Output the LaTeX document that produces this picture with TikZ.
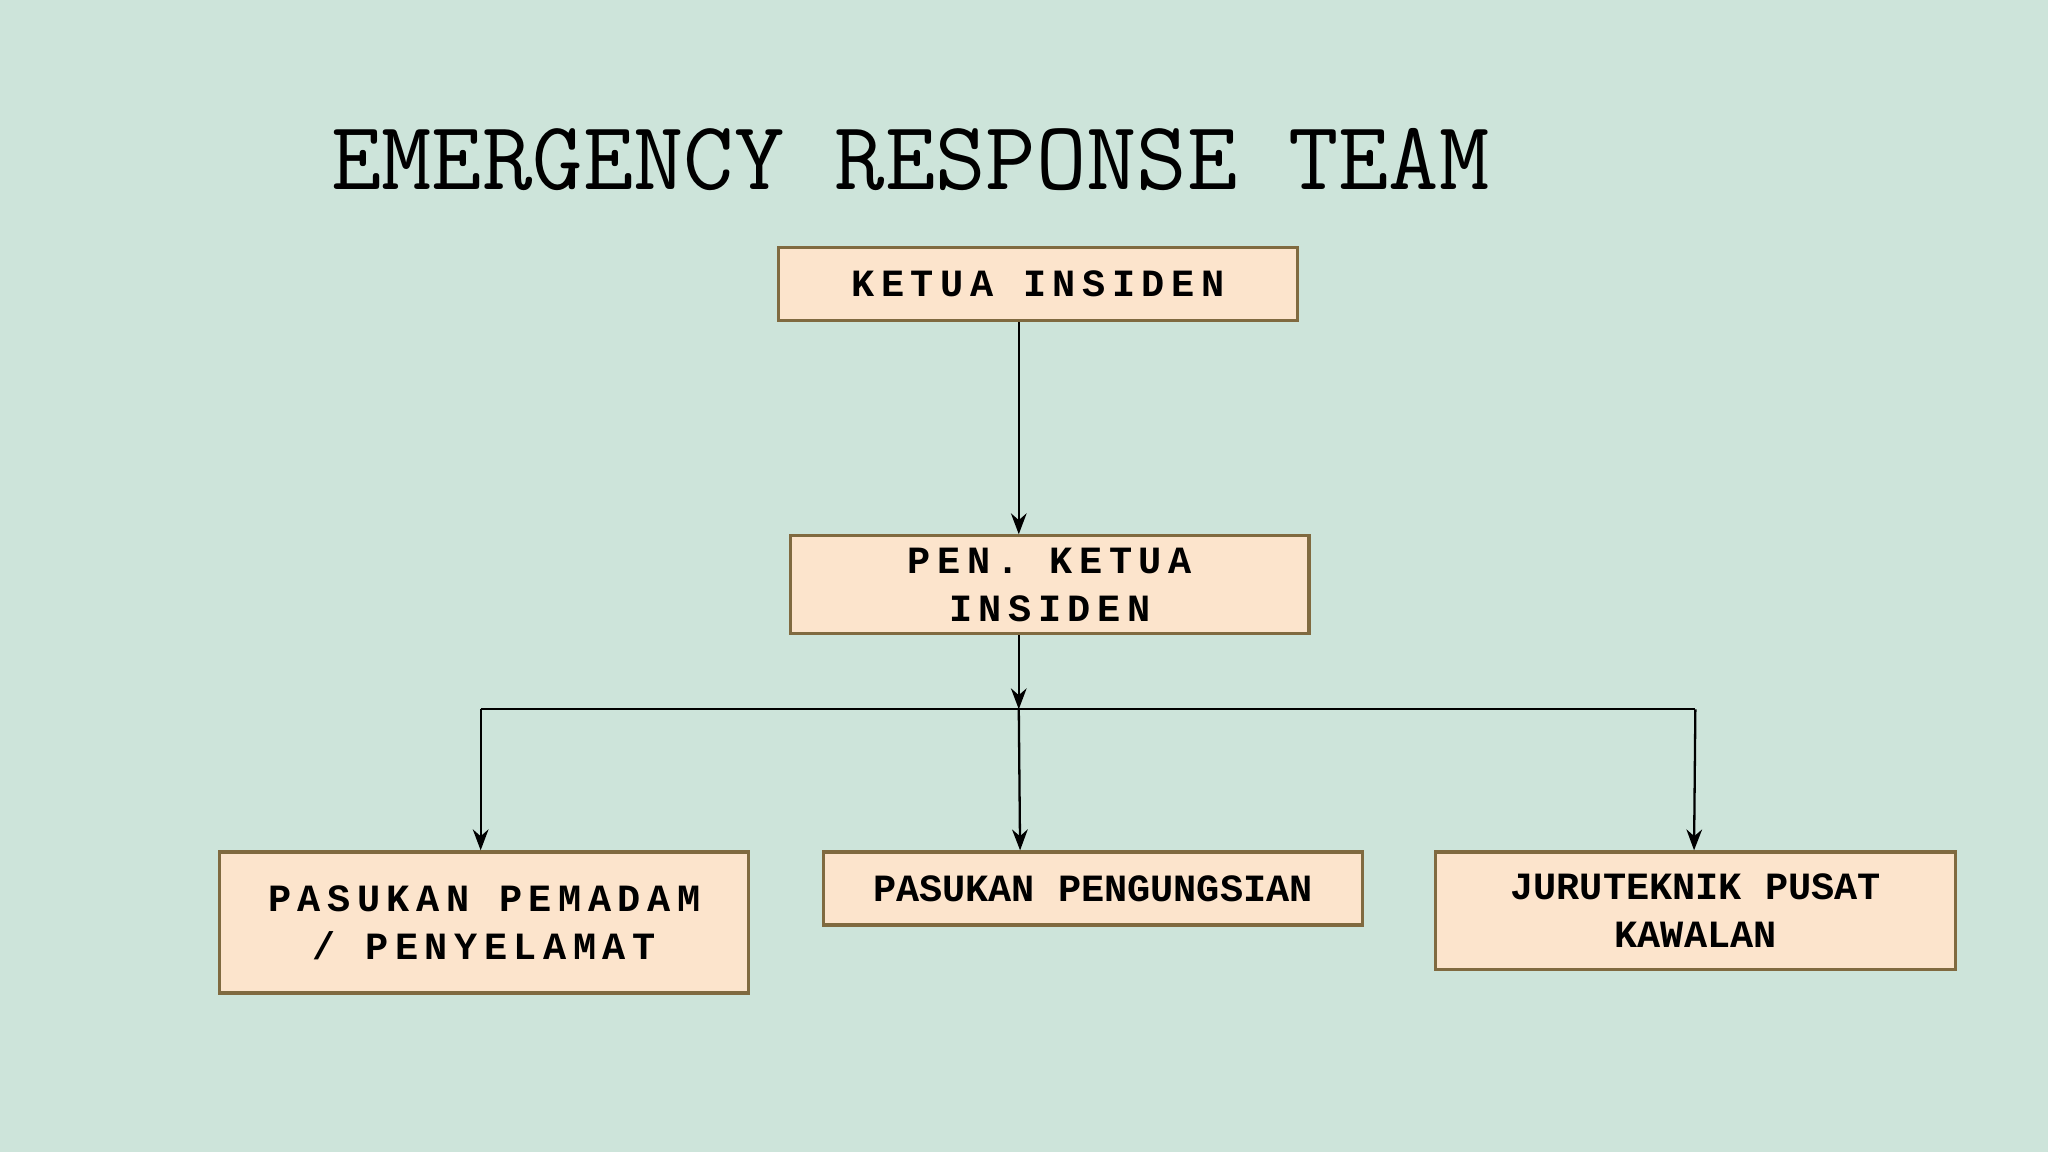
\documentclass[tikz,border=0pt]{standalone}
\usepackage{fontspec}
\setmainfont{Liberation Mono}
\newfontfamily\spacedmono[LetterSpace=17]{Liberation Mono}
\usetikzlibrary{arrows.meta}
\definecolor{bgcol}{HTML}{CDE4DA}
\definecolor{boxfill}{HTML}{FCE4CC}
\definecolor{boxline}{HTML}{806A40}
\begin{document}
\begin{tikzpicture}
[
    box/.style={shape=rectangle, draw=boxline, fill=boxfill, line width=0.7pt, anchor=north west, inner sep=0pt, align=center, font=\bfseries\fontsize{8.4}{10.5}\selectfont},
    link/.style={line width=0.5pt, -{Stealth[length=1.6mm, width=1.2mm]}},
]
\fill[bgcol] (0,0) rectangle (15.68,-8.82);
\useasboundingbox (0,0) rectangle (15.68,-8.82);

\node(title) at (6.97,-1.22) [font=\ttfamily\fontsize{21.3}{24}\selectfont]{EMERGENCY RESPONSE TEAM};

\node(ketua) at (5.95,-1.88) [box, minimum width=3.97cm, minimum height=0.56cm]{\spacedmono KETUA INSIDEN};
\node(pen) at (6.04,-4.09) [box, minimum width=3.97cm, minimum height=0.75cm]{\spacedmono PEN. KETUA\\\spacedmono INSIDEN};
\node(pemadam) at (1.67,-6.51) [box, minimum width=4.05cm, minimum height=1.08cm]{\spacedmono PASUKAN PEMADAM\\\spacedmono / PENYELAMAT};
\node(pengungsian) at (6.29,-6.51) [box, minimum width=4.13cm, minimum height=0.56cm]{PASUKAN PENGUNGSIAN};
\node(juru) at (10.98,-6.51) [box, minimum width=3.98cm, minimum height=0.90cm]{JURUTEKNIK PUSAT\\KAWALAN};

\coordinate(split) at (7.80,-5.43);
\draw[link] (ketua.south -| split) -- (pen.north -| split);
\draw[link] (pen.south -| split) -- (split);
\draw[line width=0.5pt] (3.68,-5.43) -- (12.98,-5.43);
\draw[link] (split -| 3.68,0) -- (pemadam.north -| 3.68,0);
\draw[link] (split) -- (pengungsian.north -| 7.81,0);
\draw[link] (split -| 12.98,0) -- (juru.north -| 12.97,0);

\end{tikzpicture}
\end{document}
